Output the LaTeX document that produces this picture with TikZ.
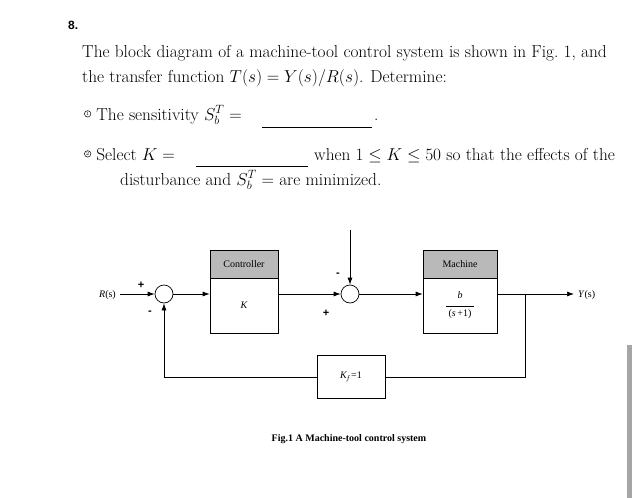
\documentclass[tikz,border=0pt]{standalone}
\usepackage{fontspec}
\usepackage{amsmath,amssymb}
\newfontfamily\tms{Liberation Serif}
\newfontfamily\hv{Liberation Sans}
\usetikzlibrary{arrows.meta}
\newcommand{\circnum}[1]{\tikz[baseline=-0.6ex]\node[draw,circle,inner sep=0.6pt,line width=0.5pt,font=\tiny]{#1};}
\begin{document}
\begin{tikzpicture}[x=1pt,y=-1pt,
  txt/.style={anchor=base west,inner sep=0pt,font=\fontsize{17.3}{20}\selectfont},
  dtxt/.style={inner sep=0pt,font=\tms\fontsize{10}{12}\selectfont},
  blk/.style={draw,line width=0.7pt,minimum width=68pt,inner sep=0pt},
  sig/.style={line width=0.7pt,-{Latex[length=7pt,width=5pt]}},
  ln/.style={line width=0.7pt},
  pm/.style={inner sep=0pt,font=\hv\bfseries\fontsize{11}{12}\selectfont},
  sumc/.style={draw,circle,line width=0.7pt,minimum size=18pt,inner sep=0pt}]
\useasboundingbox (0,0) rectangle (640,498);
\fill[white] (0,0) rectangle (640,498);
\fill[gray!70] (627,345) rectangle (632,498);
\node[anchor=base west,inner sep=0pt,font=\hv\bfseries\fontsize{12}{14}\selectfont] (num) at (68,29) {8.};
\node[txt] (l1) at (82,57) {The block diagram of a machine-tool control system is shown in Fig.~1, and};
\node[txt] (l2) at (82,82) {the transfer function $T(s)=Y(s)/R(s)$. Determine:};
\node[txt] (a1) at (84,120) {\circnum{1}\ The sensitivity $S_b^T=$};
\draw[line width=0.9pt] (262,127) -- (372,127);
\node[txt] (d1) at (374,120) {.};
\node[txt] (a2) at (84,160) {\circnum{2}\ Select $K=$};
\draw[line width=0.6pt] (196,166) -- (308,166);
\node[txt] (a3) at (314,160) {when $1\le K\le 50$ so that the effects of the};
\node[txt] (a4) at (120,185) {disturbance and $S_b^T=$ are minimized.};
% diagram
\node[sumc] (s1) at (164,294) {};
\node[sumc] (s2) at (350,294) {};
\node[blk,fill=gray!55,minimum height=28pt] (ch) at (244,264) {\tms\fontsize{10}{12}\selectfont Controller};
\node[blk,minimum height=55pt] (cb) at (244,305.5) {\tms\itshape\fontsize{10}{12}\selectfont K};
\node[blk,fill=gray!55,minimum width=74pt,minimum height=28pt] (mh) at (460,264) {\tms\fontsize{10}{12}\selectfont Machine};
\node[blk,minimum width=74pt,minimum height=55pt] (mb) at (460,305.5) {\tms\fontsize{10}{12}\selectfont\begin{tabular}{@{}c@{}}\textit{b}\\[-4pt]\rule{28pt}{0.5pt}\\[-2pt](\textit{s}\,+1)\end{tabular}};
\node[blk,minimum height=43pt] (kf) at (351,377) {\tms\fontsize{10}{12}\selectfont \textit{K}$_{\!f}$=1};
\node[dtxt,anchor=east] (r) at (116,295) {\textit{R}(s)};
\node[dtxt,anchor=west] (y) at (578,295) {\textit{Y}(s)};
\coordinate (rin) at (120,294);
\coordinate (dtop) at (350,230);
\coordinate (br) at (525,294);
\coordinate (yout) at (574,294);
\coordinate (fr) at (525,377);
\coordinate (fl) at (164,377);
\draw[sig] (rin) -- (s1);
\draw[sig] (s1) -- (cb.west |- s1);
\draw[sig] (cb.east |- s2) -- (s2);
\draw[sig] (s2) -- (mb.west |- s2);
\draw[sig] (mb.east |- s2) -- (yout);
\draw[sig] (dtop) -- (s2);
\draw[ln] (br) -- (fr) -- (kf.east |- fr);
\draw[ln] (kf.west |- fl) -- (fl);
\draw[sig] (fl) -- (s1);
\node[pm] (p1) at (141,285) {+};
\node[pm] (m1) at (150,313) {-};
\node[pm] (m2) at (338,275) {-};
\node[pm] (p2) at (326,313) {+};
\node[dtxt,font=\tms\bfseries\fontsize{10}{12}\selectfont] (cap) at (349,439) {Fig.1 A Machine-tool control system};
\end{tikzpicture}
\end{document}
